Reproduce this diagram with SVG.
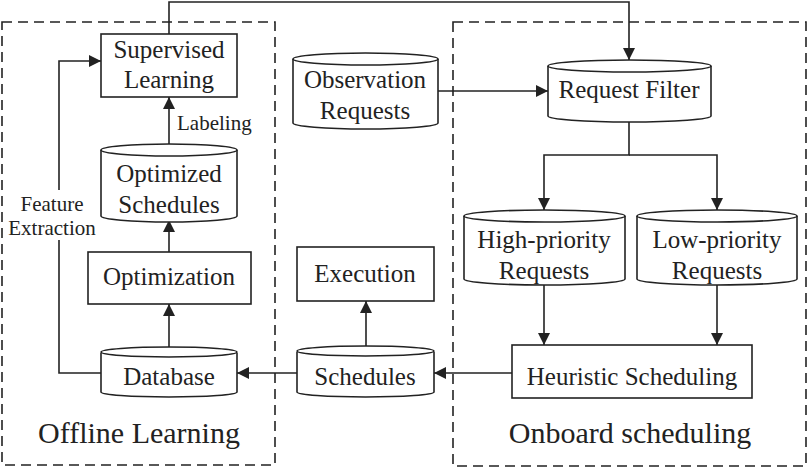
<svg xmlns="http://www.w3.org/2000/svg" width="811" height="471" viewBox="0 0 811 471">
<defs>
<marker id="arr" viewBox="0 0 12 12" refX="12" refY="6" markerWidth="12" markerHeight="12" markerUnits="userSpaceOnUse" orient="auto">
<path d="M0,0 L12,6 L0,12 Z" fill="#222"/>
</marker>
</defs>
<style>
.box{fill:#fff;stroke:#222;stroke-width:1.6}
.cyl{fill:#fff;stroke:#222;stroke-width:1.6}
.grp{fill:none;stroke:#222;stroke-width:1.6;stroke-dasharray:10 6}
text{font-family:'Liberation Serif','DejaVu Serif',serif;fill:#222}
.t{font-size:25px;text-anchor:middle}
.s{font-size:21px}
.big{font-size:30px;text-anchor:middle}
.c{fill:none;stroke:#222;stroke-width:1.6;marker-end:url(#arr)}
</style>
<rect width="811" height="471" fill="#fff"/>
<g id="offline-group">
<rect class="grp" x="2" y="22" width="273" height="443"/>
<text class="big" x="139" y="443">Offline Learning</text>
</g>
<g id="onboard-group">
<rect class="grp" x="453" y="22" width="353" height="444"/>
<text class="big" x="630" y="443">Onboard scheduling</text>
</g>
<g id="connectors">
<polyline class="c" points="169,34 169,2 629,2 629,60"/>
<polyline class="c" points="438,91 548,91"/>
<polyline class="c" points="629,122 629,155 544,155 544,210"/>
<polyline class="c" points="629,155 717,155 717,210"/>
<polyline class="c" points="544,282 544,345"/>
<polyline class="c" points="717,282 717,345"/>
<polyline class="c" points="512,373 434,373"/>
<polyline class="c" points="297,373 237,373"/>
<polyline class="c" points="366,346 366,301"/>
<polyline class="c" points="169,347 169,304"/>
<polyline class="c" points="169,252 169,220"/>
<polyline class="c" points="169,144 169,97"/>
<polyline class="c" points="101,373 59,373 59,61 101,61"/>
<rect x="18" y="190" width="82" height="50" fill="#fff"/>
<text class="s" x="52" y="211" text-anchor="middle">Feature</text>
<text class="s" x="52" y="235" text-anchor="middle">Extraction</text>
<text class="s" x="177" y="130">Labeling</text>
</g>
<g id="supervised-learning">
<rect class="box" x="101" y="34" width="136" height="63"/>
<text class="t" x="169" y="58">Supervised</text>
<text class="t" x="169" y="88">Learning</text>
</g>
<g id="optimized-schedules">
<path class="cyl" d="M101,150 L101,216 A68,6 0 0 0 237,216 L237,150"/>
<ellipse class="cyl" cx="169" cy="150" rx="68" ry="6"/>
<text class="t" x="169" y="182">Optimized</text>
<text class="t" x="169" y="213">Schedules</text>
</g>
<g id="optimization">
<rect class="box" x="88" y="252" width="163" height="52"/>
<text class="t" x="169" y="285">Optimization</text>
</g>
<g id="database">
<path class="cyl" d="M101,353 L101,392 A68,5 0 0 0 237,392 L237,353"/>
<ellipse class="cyl" cx="169" cy="352" rx="68" ry="5"/>
<text class="t" x="169" y="385">Database</text>
</g>
<g id="execution">
<rect class="box" x="297" y="247" width="137" height="54"/>
<text class="t" x="365" y="282">Execution</text>
</g>
<g id="schedules">
<path class="cyl" d="M297,352 L297,392 A68.5,5 0 0 0 434,392 L434,352"/>
<ellipse class="cyl" cx="365.5" cy="351" rx="68.5" ry="5"/>
<text class="t" x="365" y="385">Schedules</text>
</g>
<g id="observation-requests">
<path class="cyl" d="M293,59 L293,123 A72.5,6 0 0 0 438,123 L438,59"/>
<ellipse class="cyl" cx="365.5" cy="59" rx="72.5" ry="6"/>
<text class="t" x="365" y="88">Observation</text>
<text class="t" x="365" y="119">Requests</text>
</g>
<g id="request-filter">
<path class="cyl" d="M548,66 L548,116 A81.5,6 0 0 0 711,116 L711,66"/>
<ellipse class="cyl" cx="629.5" cy="66" rx="81.5" ry="6"/>
<text class="t" x="629" y="98">Request Filter</text>
</g>
<g id="high-priority-requests">
<path class="cyl" d="M464,216 L464,279 A80.5,6 0 0 0 625,279 L625,216"/>
<ellipse class="cyl" cx="544.5" cy="216" rx="80.5" ry="6"/>
<text class="t" x="544" y="248">High-priority</text>
<text class="t" x="544" y="279">Requests</text>
</g>
<g id="low-priority-requests">
<path class="cyl" d="M637,216 L637,279 A80,6 0 0 0 797,279 L797,216"/>
<ellipse class="cyl" cx="717" cy="216" rx="80" ry="6"/>
<text class="t" x="717" y="248">Low-priority</text>
<text class="t" x="717" y="279">Requests</text>
</g>
<g id="heuristic-scheduling">
<rect class="box" x="512" y="345" width="240" height="53"/>
<text class="t" x="632" y="385">Heuristic Scheduling</text>
</g>
</svg>
